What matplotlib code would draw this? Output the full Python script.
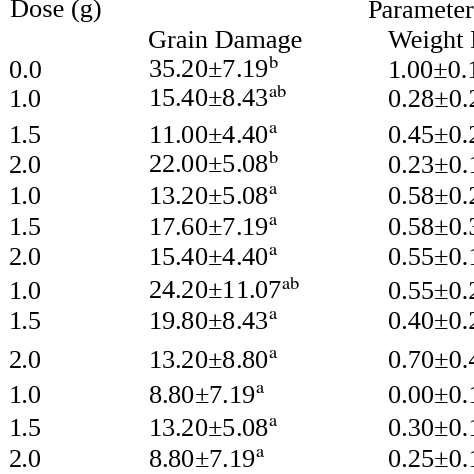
import matplotlib.pyplot as plt

plt.rcParams['font.family'] = ['Liberation Serif', 'DejaVu Serif']
plt.rcParams['mathtext.fontset'] = 'stix'

# table content
doses = ["0.0", "1.0", "1.5", "2.0", "1.0", "1.5", "2.0", "1.0", "1.5", "2.0", "1.0", "1.5", "2.0"]
grain_mean = ["35.20", "15.40", "11.00", "22.00", "13.20", "17.60", "15.40", "24.20", "19.80",
              "13.20", "8.80", "13.20", "8.80"]
grain_sd = ["7.19", "8.43", "4.40", "5.08", "5.08", "7.19", "4.40", "11.07", "8.43",
            "8.80", "7.19", "5.08", "7.19"]
grain_grp = ["b", "ab", "a", "b", "a", "a", "a", "ab", "a", "a", "a", "a", "a"]
weight_mean = ["1.00", "0.28", "0.45", "0.23", "0.58", "0.58", "0.55", "0.55", "0.40",
               "0.70", "0.00", "0.30", "0.25"]
weight_sd = ["0.10", "0.20", "0.20", "0.10", "0.20", "0.30", "0.10", "0.20", "0.20",
             "0.40", "0.10", "0.10", "0.10"]

# row baselines in pixels from top
row_y = [78, 107, 143, 173, 204, 235, 265, 299, 329, 368, 403, 436, 467]

W = H = 474
fig = plt.figure(figsize=(4.74, 4.74), dpi=100)
fs = 19


def put(x, y, s):
    fig.text(x / W, 1 - y / H, s, fontsize=fs, va='baseline', ha='left')


put(10, 18, "Dose (g)")
put(367, 18, "Parameters")
put(148, 48, "Grain Damage")
put(388, 48, "Weight Loss")

for i, y in enumerate(row_y):
    put(9, y, doses[i])
    put(148, y, grain_mean[i] + "±" + grain_sd[i] + r"$^{\mathrm{" + grain_grp[i] + "}}$")
    put(388, y, weight_mean[i] + "±" + weight_sd[i])

fig.savefig("out.png", dpi=100)
